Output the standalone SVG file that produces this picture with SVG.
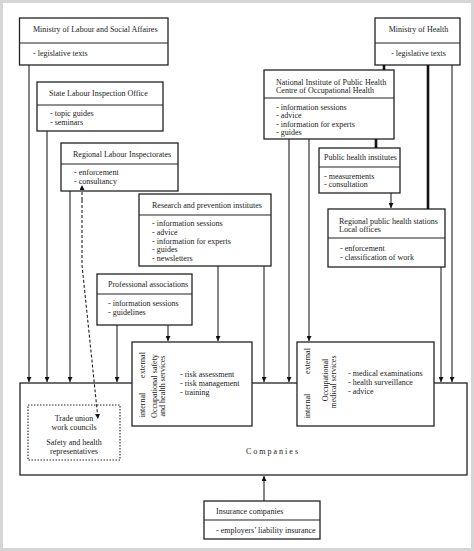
<svg xmlns="http://www.w3.org/2000/svg" width="474" height="551" viewBox="0 0 474 551">
<style>
text{font-family:"Liberation Serif","Times New Roman",serif;font-size:8px;fill:#1a1a1a}
.box{fill:#fff;stroke:#222;stroke-width:1.3}
.div{stroke:#222;stroke-width:1.1}
.ln{stroke:#222;stroke-width:1.1;fill:none}
.thk{stroke:#111;stroke-width:2.6;fill:none}
.c{text-anchor:middle}
</style>
<defs>
<marker id="ah" viewBox="0 0 10 10" refX="10" refY="5" markerWidth="5" markerHeight="5" markerUnits="userSpaceOnUse" orient="auto">
<path d="M0,0 L10,5 L0,10 z" fill="#111"/>
</marker>
</defs>
<rect x="0" y="0" width="474" height="551" fill="#d6d6d6"/>
<rect x="3" y="3" width="468" height="545" fill="#fff"/>

<g id="companies">
<rect class="box" x="20" y="383" width="447" height="92"/>
<text x="246" y="454" letter-spacing="2">Companies</text>
</g>

<g id="trade-union">
<rect x="28" y="405" width="92" height="55" fill="#fff" stroke="#222" stroke-width="1.1" stroke-dasharray="1.5,1.5"/>
<text class="c" x="74" y="421">Trade union</text>
<text class="c" x="74" y="430">work councils</text>
<text class="c" x="74" y="445">Safety and health</text>
<text class="c" x="74" y="454">representatives</text>
</g>

<g id="ministry-labour">
<rect class="box" x="19.5" y="18" width="148.5" height="47"/>
<line class="div" x1="19.5" y1="43" x2="168" y2="43"/>
<text x="33" y="32">Ministry of Labour and Social Affaires</text>
<text x="33" y="56">- legislative texts</text>
</g>

<g id="state-labour">
<rect class="box" x="37" y="82" width="126" height="49"/>
<line class="div" x1="37" y1="105" x2="163" y2="105"/>
<text x="49" y="96">State Labour Inspection Office</text>
<text x="50" y="116">- topic guides</text>
<text x="50" y="125">- seminars</text>
</g>

<g id="regional-labour">
<rect class="box" x="61" y="143" width="117" height="48"/>
<line class="div" x1="61" y1="164" x2="178" y2="164"/>
<text x="73" y="157">Regional Labour Inspectorates</text>
<text x="74" y="175">- enforcement</text>
<text x="74" y="184">- consultancy</text>
</g>

<g id="research">
<rect class="box" x="139" y="194" width="132" height="72"/>
<line class="div" x1="139" y1="215" x2="271" y2="215"/>
<text x="152" y="208">Research and prevention institutes</text>
<text x="152" y="226">- information sessions</text>
<text x="152" y="235">- advice</text>
<text x="152" y="243.5">- information for experts</text>
<text x="152" y="252">- guides</text>
<text x="152" y="260.5">- newsletters</text>
</g>

<g id="professional">
<rect class="box" x="97" y="274" width="95" height="51"/>
<line class="div" x1="97" y1="294" x2="192" y2="294"/>
<text x="108" y="287">Professional associations</text>
<text x="108" y="306">- information sessions</text>
<text x="108" y="315">- guidelines</text>
</g>

<g id="ministry-health">
<rect class="box" x="375" y="18" width="85" height="47"/>
<line class="div" x1="375" y1="43" x2="460" y2="43"/>
<text class="c" x="418.5" y="32">Ministry of Health</text>
<text class="c" x="418.5" y="56">- legislative texts</text>
</g>

<g id="national-institute">
<rect class="box" x="264" y="70" width="130" height="69"/>
<line class="div" x1="264" y1="98" x2="394" y2="98"/>
<text x="276" y="84.5">National Institute of Public Health</text>
<text x="276" y="93">Centre of Occupational Health</text>
<text x="276" y="109.5">- information sessions</text>
<text x="276" y="118">- advice</text>
<text x="276" y="126.5">- information for experts</text>
<text x="276" y="135">- guides</text>
</g>

<g id="public-health-institutes">
<rect class="box" x="319" y="148" width="81" height="45"/>
<line class="div" x1="319" y1="167" x2="400" y2="167"/>
<text x="324" y="160">Public health institutes</text>
<text x="324" y="178.5">- measurements</text>
<text x="324" y="187">- consultation</text>
</g>

<g id="regional-health">
<rect class="box" x="328" y="209" width="117" height="58"/>
<line class="div" x1="328" y1="238" x2="445" y2="238"/>
<text x="339" y="223.5">Regional public health stations</text>
<text x="339" y="232">Local offices</text>
<text x="340" y="251">- enforcement</text>
<text x="340" y="259.5">- classification of work</text>
</g>

<g id="osh-services">
<rect class="box" x="132" y="342" width="120" height="84"/>
<text class="c" transform="translate(145,365) rotate(-90)">external</text>
<text class="c" transform="translate(145,405) rotate(-90)">internal</text>
<text class="c" transform="translate(157,386) rotate(-90)">Occupational safety</text>
<text class="c" transform="translate(165,386) rotate(-90)">and health services</text>
<text x="180" y="377">- risk assessment</text>
<text x="180" y="386">- risk management</text>
<text x="180" y="394.5">- training</text>
</g>

<g id="oms-services">
<rect class="box" x="297" y="342" width="137" height="84"/>
<text class="c" transform="translate(310,361) rotate(-90)">external</text>
<text class="c" transform="translate(310,406) rotate(-90)">internal</text>
<text class="c" transform="translate(328,380) rotate(-90)">Occupational</text>
<text class="c" transform="translate(336,382) rotate(-90)">medical services</text>
<text x="348" y="376">- medical examinations</text>
<text x="348" y="384.5">- health surveillance</text>
<text x="348" y="393.5">- advice</text>
</g>

<g id="insurance">
<rect class="box" x="204" y="501" width="116" height="38"/>
<line class="div" x1="204" y1="520" x2="320" y2="520"/>
<text x="216" y="514">Insurance companies</text>
<text x="216" y="533">- employers’ liability insurance</text>
</g>

<g id="connectors">
<line class="ln" x1="29" y1="65" x2="29" y2="382" marker-end="url(#ah)"/>
<line class="ln" x1="47" y1="131" x2="47" y2="382" marker-end="url(#ah)"/>
<line class="ln" x1="70" y1="191" x2="70" y2="382" marker-end="url(#ah)"/>
<line class="ln" x1="117" y1="325" x2="117" y2="382" marker-end="url(#ah)"/>
<line class="ln" x1="168" y1="325" x2="168" y2="341" marker-end="url(#ah)"/>
<line class="ln" x1="218" y1="266" x2="218" y2="341" marker-end="url(#ah)"/>
<line class="ln" x1="264" y1="266" x2="264" y2="382" marker-end="url(#ah)"/>
<line class="ln" x1="289" y1="139" x2="289" y2="382" marker-end="url(#ah)"/>
<line class="ln" x1="309" y1="139" x2="309" y2="341" marker-end="url(#ah)"/>
<line class="ln" x1="391" y1="193" x2="391" y2="208" marker-end="url(#ah)"/>
<line class="ln" x1="441" y1="267" x2="441" y2="382" marker-end="url(#ah)"/>
<line class="ln" x1="452" y1="65" x2="452" y2="382" marker-end="url(#ah)"/>
<line class="thk" x1="384" y1="65" x2="384" y2="70"/>
<line class="thk" x1="428" y1="65" x2="428" y2="209"/>
<line class="thk" x1="376" y1="139" x2="376" y2="148"/>
<line class="ln" x1="264" y1="501" x2="264" y2="476" marker-end="url(#ah)"/>
<polyline class="ln" points="82,200 82,265 98,419" stroke-dasharray="3,2" marker-end="url(#ah)"/>
<line class="ln" x1="82" y1="200" x2="82" y2="185" stroke-dasharray="3,2" marker-end="url(#ah)"/>
</g>
</svg>
